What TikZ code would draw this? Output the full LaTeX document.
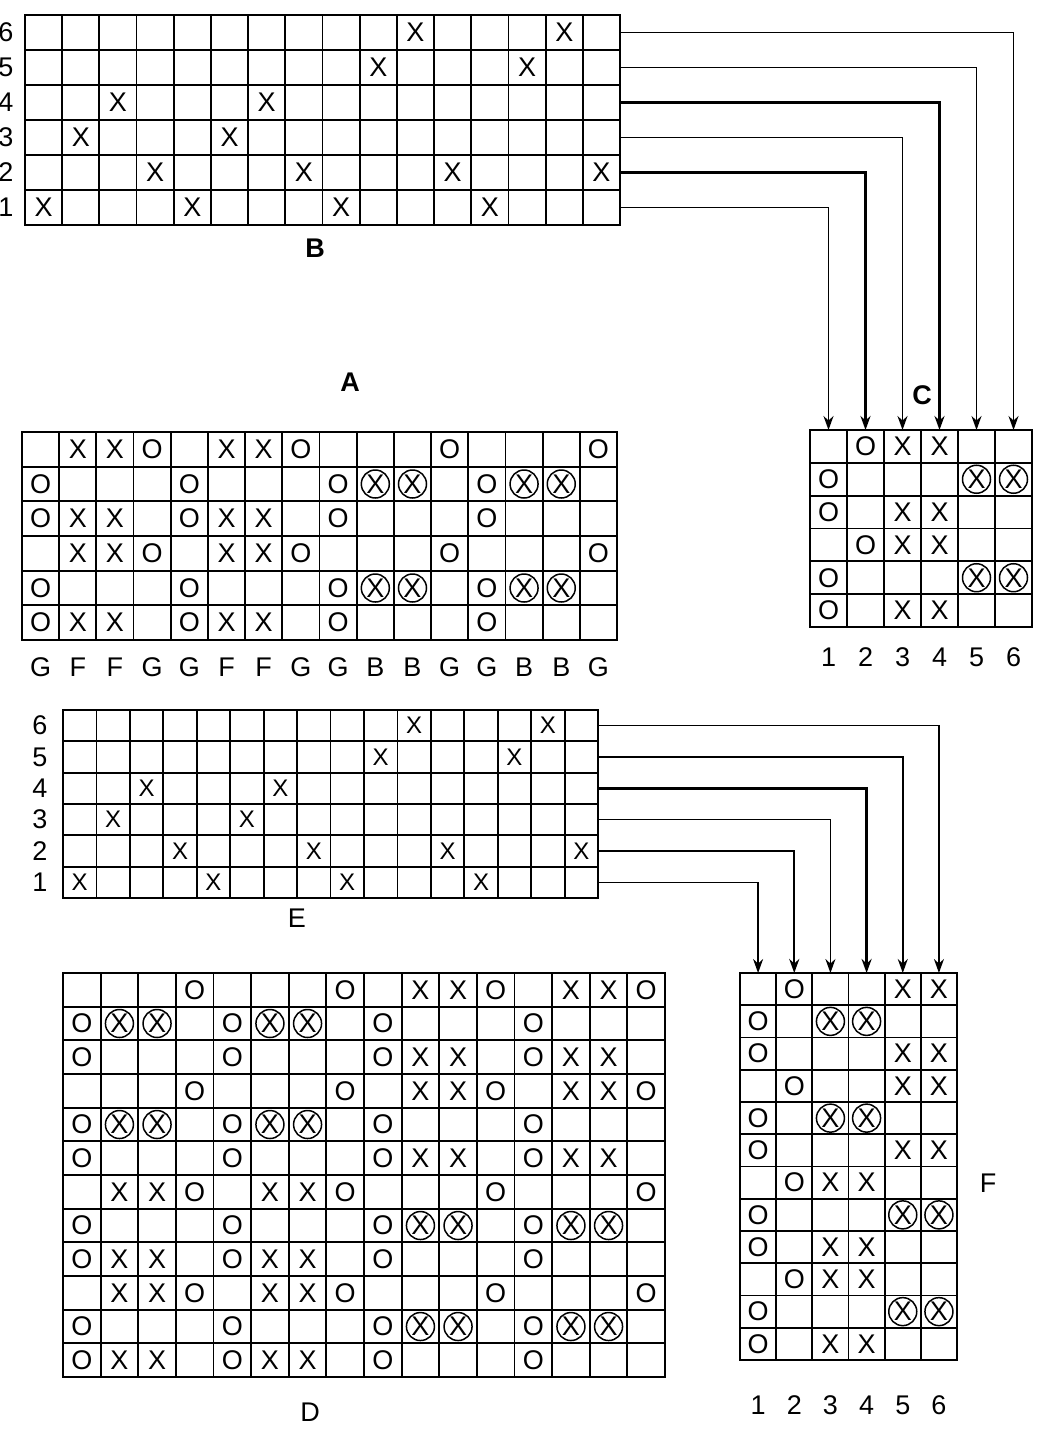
\documentclass[tikz,border=0pt]{standalone}
\usepackage{fontspec}
\setmainfont{Liberation Sans}
\usetikzlibrary{arrows.meta}
\newcommand\ox{\tikz[baseline=-0.5ex]{\draw[line width=1.5pt] (0,0) circle (14pt); \node[inner sep=0pt] at (0,0) {X};}}
\newcommand\gridd[6]{%
  \foreach \i in {0,...,#5} \draw[gl] ({#1+\i*#3},#2) -- ({#1+\i*#3},{#2+#6*#4});
  \foreach \j in {0,...,#6} \draw[gl] (#1,{#2+\j*#4}) -- ({#1+#5*#3},{#2+\j*#4});}
\newcommand\cells[6]{%
  \foreach \c/\t in {#6} \node[txt] at ({#1+(\c-0.5)*#3},{#2+(#5-0.5)*#4}) {\t};}
\begin{document}
\begin{tikzpicture}[x=1pt,y=-1pt,
  gl/.style={line width=1.8pt,line cap=rect},
  txt/.style={inner sep=0pt,font=\fontsize{27}{29}\selectfont},
  lab/.style={inner sep=0pt,font=\fontsize{27}{29}\selectfont},
  big/.style={inner sep=0pt,font=\fontsize{27}{29}\selectfont\bfseries},
  conn/.style={line width=1.6pt,-{Stealth[length=14pt,width=10pt]}},
  thk/.style={line width=2.4pt}]
\useasboundingbox (0,0) rectangle (1046,1431);
% ---------- B ----------
\def\bx{25}\def\by{15}\def\bw{37.19}\def\bh{35}
\gridd{\bx}{\by}{\bw}{\bh}{16}{6}
\cells{\bx}{\by}{\bw}{\bh}{1}{11/X,15/X}
\cells{\bx}{\by}{\bw}{\bh}{2}{10/X,14/X}
\cells{\bx}{\by}{\bw}{\bh}{3}{3/X,7/X}
\cells{\bx}{\by}{\bw}{\bh}{4}{2/X,6/X}
\cells{\bx}{\by}{\bw}{\bh}{5}{4/X,8/X,12/X,16/X}
\cells{\bx}{\by}{\bw}{\bh}{6}{1/X,5/X,9/X,13/X}
\foreach \n [count=\k] in {6,5,4,3,2,1} \node[lab] (bl\n) at (6,{\by+(\k-0.5)*\bh}) {\n};
\node[big] (labB) at (315,248) {B};
\node[big] (labA) at (350,382) {A};
\node[big] (labC) at (922,395) {C};
% ---------- C ----------
\def\cx{810}\def\cy{430}\def\cw{37}\def\ch{32.83}
\gridd{\cx}{\cy}{\cw}{\ch}{6}{6}
\cells{\cx}{\cy}{\cw}{\ch}{1}{2/O,3/X,4/X}
\cells{\cx}{\cy}{\cw}{\ch}{2}{1/O,5/\ox,6/\ox}
\cells{\cx}{\cy}{\cw}{\ch}{3}{1/O,3/X,4/X}
\cells{\cx}{\cy}{\cw}{\ch}{4}{2/O,3/X,4/X}
\cells{\cx}{\cy}{\cw}{\ch}{5}{1/O,5/\ox,6/\ox}
\cells{\cx}{\cy}{\cw}{\ch}{6}{1/O,3/X,4/X}
\foreach \n in {1,...,6} \node[lab] (cl\n) at ({\cx+(\n-0.5)*\cw},657) {\n};
% connectors B -> C
\foreach \k/\n/\s in {1/6/conn,2/5/conn,3/4/thk,4/3/conn,5/2/thk,6/1/conn}{
  \coordinate (bs\n) at ({\bx+16*\bw},{\by+(\k-0.5)*\bh});
  \coordinate (ct\n) at ({\cx+(\n-0.5)*\cw},\cy);
  \draw[conn,\s] (bs\n) -| (ct\n);}
% ---------- A ----------
\def\ax{22}\def\ay{432}\def\aw{37.19}\def\ah{34.67}
\gridd{\ax}{\ay}{\aw}{\ah}{16}{6}
\foreach \r in {1,4} {\cells{\ax}{\ay}{\aw}{\ah}{\r}{2/X,3/X,4/O,6/X,7/X,8/O,12/O,16/O}}
\foreach \r in {2,5} {\cells{\ax}{\ay}{\aw}{\ah}{\r}{1/O,5/O,9/O,10/\ox,11/\ox,13/O,14/\ox,15/\ox}}
\foreach \r in {3,6} {\cells{\ax}{\ay}{\aw}{\ah}{\r}{1/O,2/X,3/X,5/O,6/X,7/X,9/O,13/O}}
\foreach \l [count=\k] in {G,F,F,G,G,F,F,G,G,B,B,G,G,B,B,G} \node[lab] (al\k) at ({\ax+(\k-0.5)*\aw},667) {\l};
% ---------- E ----------
\def\ex{63}\def\ey{710}\def\ew{33.44}\def\eh{31.33}
\gridd{\ex}{\ey}{\ew}{\eh}{16}{6}
\begin{scope}[txt/.style={inner sep=0pt,font=\fontsize{24}{26}\selectfont}]
\cells{\ex}{\ey}{\ew}{\eh}{1}{11/X,15/X}
\cells{\ex}{\ey}{\ew}{\eh}{2}{10/X,14/X}
\cells{\ex}{\ey}{\ew}{\eh}{3}{3/X,7/X}
\cells{\ex}{\ey}{\ew}{\eh}{4}{2/X,6/X}
\cells{\ex}{\ey}{\ew}{\eh}{5}{4/X,8/X,12/X,16/X}
\cells{\ex}{\ey}{\ew}{\eh}{6}{1/X,5/X,9/X,13/X}
\end{scope}
\foreach \n [count=\k] in {6,5,4,3,2,1} \node[lab] (el\n) at (40,{\ey+(\k-0.5)*\eh}) {\n};
\node[lab] (labE) at (297,918) {E};
% ---------- F ----------
\def\fx{740}\def\fy{973}\def\fw{36.17}\def\fh{32.25}
\gridd{\fx}{\fy}{\fw}{\fh}{6}{12}
\cells{\fx}{\fy}{\fw}{\fh}{1}{2/O,5/X,6/X}
\cells{\fx}{\fy}{\fw}{\fh}{2}{1/O,3/\ox,4/\ox}
\cells{\fx}{\fy}{\fw}{\fh}{3}{1/O,5/X,6/X}
\cells{\fx}{\fy}{\fw}{\fh}{4}{2/O,5/X,6/X}
\cells{\fx}{\fy}{\fw}{\fh}{5}{1/O,3/\ox,4/\ox}
\cells{\fx}{\fy}{\fw}{\fh}{6}{1/O,5/X,6/X}
\cells{\fx}{\fy}{\fw}{\fh}{7}{2/O,3/X,4/X}
\cells{\fx}{\fy}{\fw}{\fh}{8}{1/O,5/\ox,6/\ox}
\cells{\fx}{\fy}{\fw}{\fh}{9}{1/O,3/X,4/X}
\cells{\fx}{\fy}{\fw}{\fh}{10}{2/O,3/X,4/X}
\cells{\fx}{\fy}{\fw}{\fh}{11}{1/O,5/\ox,6/\ox}
\cells{\fx}{\fy}{\fw}{\fh}{12}{1/O,3/X,4/X}
\foreach \n in {1,...,6} \node[lab] (fl\n) at ({\fx+(\n-0.5)*\fw},1405) {\n};
\node[lab] (labF) at (988,1183) {F};
% connectors E -> F
\foreach \k/\n/\s in {1/6/conn,2/5/conn,3/4/thk,4/3/conn,5/2/thk,6/1/conn}{
  \coordinate (es\n) at ({\ex+16*\ew},{\ey+(\k-0.5)*\eh});
  \coordinate (ft\n) at ({\fx+(\n-0.5)*\fw},\fy);
  \draw[conn,\s] (es\n) -| (ft\n);}
% ---------- D ----------
\def\dx{63}\def\dy{973}\def\dw{37.625}\def\dh{33.67}
\gridd{\dx}{\dy}{\dw}{\dh}{16}{12}
\foreach \r in {1,4} {\cells{\dx}{\dy}{\dw}{\dh}{\r}{4/O,8/O,10/X,11/X,12/O,14/X,15/X,16/O}}
\foreach \r in {2,5} {\cells{\dx}{\dy}{\dw}{\dh}{\r}{1/O,2/\ox,3/\ox,5/O,6/\ox,7/\ox,9/O,13/O}}
\foreach \r in {3,6} {\cells{\dx}{\dy}{\dw}{\dh}{\r}{1/O,5/O,9/O,10/X,11/X,13/O,14/X,15/X}}
\foreach \r in {7,10} {\cells{\dx}{\dy}{\dw}{\dh}{\r}{2/X,3/X,4/O,6/X,7/X,8/O,12/O,16/O}}
\foreach \r in {8,11} {\cells{\dx}{\dy}{\dw}{\dh}{\r}{1/O,5/O,9/O,10/\ox,11/\ox,13/O,14/\ox,15/\ox}}
\foreach \r in {9,12} {\cells{\dx}{\dy}{\dw}{\dh}{\r}{1/O,2/X,3/X,5/O,6/X,7/X,9/O,13/O}}
\node[lab] (labD) at (310,1412) {D};
\end{tikzpicture}
\end{document}
